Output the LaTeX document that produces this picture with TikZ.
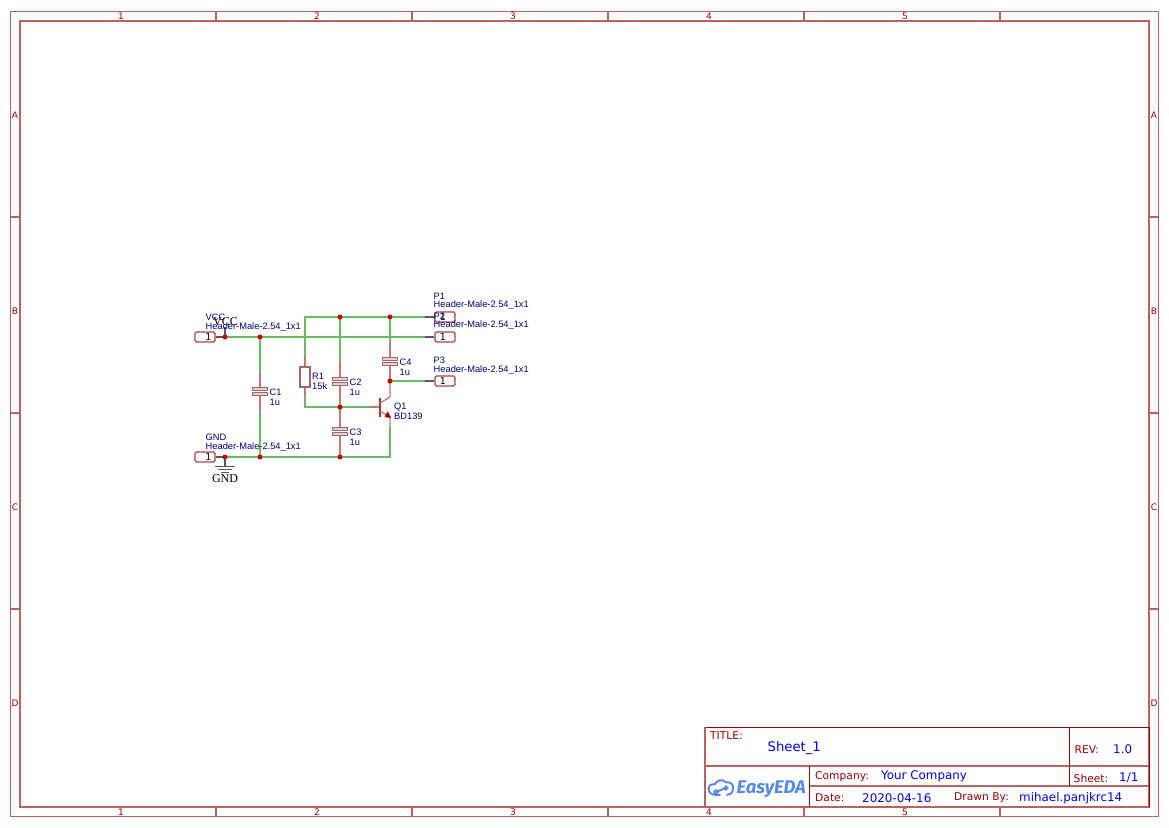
\documentclass[tikz,border=0pt]{standalone}
\usepackage{fontspec}
\setmainfont{DejaVu Sans}
\newfontfamily\annfont{Liberation Sans}
\newfontfamily\serffont{Liberation Serif}
\newfontfamily\logofont{Fira Sans}
\usetikzlibrary{arrows.meta}
\definecolor{frame}{HTML}{990000}
\definecolor{framesoft}{HTML}{B96262}
\definecolor{wirec}{HTML}{68BC68}
\definecolor{leadc}{HTML}{C07878}
\definecolor{annc}{HTML}{000080}
\definecolor{bluec}{HTML}{0000FF}
\definecolor{logoc}{HTML}{5588EE}
\definecolor{junc}{HTML}{CC0000}
\tikzset{
  x=1pt,y=-1pt,
  frameline/.style={draw=framesoft,line width=1.25pt},
  titleline/.style={draw=frame,line width=0.9pt},
  framelabel/.style={text=frame,font=\fontsize{9}{9}\selectfont,inner sep=0pt},
  tlabel/.style={text=frame,font=\fontsize{10.7}{11}\selectfont,inner sep=0pt,anchor=west},
  tvalue/.style={text=bluec,font=\fontsize{11.9}{12}\selectfont,inner sep=0pt,anchor=west},
  wire/.style={draw=wirec,line width=1.2pt},
  lead/.style={draw=leadc,line width=1.3pt},
  pinlead/.style={draw=black!65,line width=1.1pt},
  junction/.style={circle,fill=junc,inner sep=0pt,minimum size=5pt},
  pinbox/.style={draw=frame!75,line width=1.1pt,rounded corners=1.5pt,minimum width=20pt,minimum height=10pt,inner sep=0pt},
  pinnum/.style={inner sep=0pt,font=\fontsize{9.5}{9}\selectfont},
  ann/.style={text=annc,font=\annfont\fontsize{9.3}{9}\selectfont,inner sep=0pt,anchor=west},
  net/.style={text=black,font=\serffont\fontsize{12}{12}\selectfont,inner sep=0pt},
  capplate/.style={draw=leadc!85!black,fill=leadc!35,line width=0.9pt,minimum width=15pt,minimum height=2.6pt,inner sep=0pt},
  resbody/.style={draw=leadc!85!black,line width=1.2pt,minimum width=10pt,minimum height=20pt,inner sep=0pt},
}
\begin{document}
\begin{tikzpicture}
\useasboundingbox (0,0) rectangle (1169,827);
\fill[white] (0,0) rectangle (1169,827);
% frame
\draw[frameline] (10.5,11.5) rectangle (1158.5,816.5);
\draw[frameline] (20,21) rectangle (1149,807);
\foreach \xx in {216,412,608,804,1000}{
  \draw[frameline] (\xx,11.5) -- (\xx,21);
  \draw[frameline] (\xx,807) -- (\xx,816.5);
}
\foreach \yy in {217,413,609}{
  \draw[frameline] (10.5,\yy) -- (20,\yy);
  \draw[frameline] (1149,\yy) -- (1158.5,\yy);
}
\foreach \xx/\tt in {121/1,317/2,513/3,709/4,905/5}{
  \node[framelabel] at (\xx,16) {\tt};
  \node[framelabel] at (\xx,812) {\tt};
}
\foreach \yy/\tt in {115/A,311/B,507/C,703/D}{
  \node[framelabel] at (15,\yy) {\tt};
  \node[framelabel] at (1154,\yy) {\tt};
}
% title block
\draw[titleline] (705,727) -- (1149,727) -- (1149,807);
\draw[frameline] (705,727) -- (705,807);
\draw[frameline] (705,766) -- (1149,766);
\draw[frameline] (809,786) -- (1149,786);
\draw[titleline] (809,766) -- (809,807);
\draw[titleline] (1069.5,727) -- (1069.5,786);
\node[tlabel] at (710,735.5) {TITLE:};
\node[tvalue,font=\fontsize{13.2}{13}\selectfont] at (767.5,748.5) {Sheet\_1};
\node[tlabel] at (1074.5,749.5) {REV:};
\node[tvalue] at (1113,749) {1.0};
\node[tlabel] at (815,776.5) {Company:};
\node[tvalue] at (881,776) {Your Company};
\node[tlabel] at (1073.5,778.5) {Sheet:};
\node[tvalue] at (1119,778) {1/1};
\node[tlabel] at (815,798) {Date:};
\node[tvalue] at (862,798) {2020-04-16};
\node[tlabel] at (954,798) {Drawn By:};
\node[tvalue] at (1019,798) {mihael.panjkrc14};
% logo
\draw[logoc,line width=1.9pt,line cap=round,line join=round]
  (720,795) .. controls (713,796) and (708,793) .. (708.5,788.5)
  .. controls (709,785) and (712,783.5) .. (715,784)
  .. controls (716.5,780) and (723,778.5) .. (726,782.5)
  .. controls (730,781) and (734,785) .. (733,788.5)
  .. controls (733,793) and (730,795) .. (727,795);
\draw[logoc,line width=1.9pt,line cap=round] (716,792) -- (726,788);
\draw[logoc,line width=1.4pt] (716,792) circle (2pt);
\draw[logoc,line width=1.4pt] (726,788) circle (1.8pt);
\node[text=logoc,inner sep=0pt,anchor=west,font=\logofont\bfseries\itshape\fontsize{18.4}{18}\selectfont] at (736.5,789) {EasyEDA};
% pins
\node[pinbox] (pvcc) at (205,337) {};
\node[pinbox] (pgnd) at (205,457) {};
\node[pinbox] (pp1) at (445,317) {};
\node[pinbox] (pp2) at (445,337) {};
\node[pinbox] (pp3) at (445,381) {};
\node[pinnum] (nvcc) at (208.5,337) {1};
\node[pinnum] (ngnd) at (208.5,457) {1};
\node[pinnum] (np1) at (443,317) {1};
\node[pinnum] (np2) at (443,337) {1};
\node[pinnum] (np3) at (443,381) {1};
% coordinates
\coordinate (jvccC) at (225,337);
\coordinate (jc1tC) at (260,337);
\coordinate (jtop1C) at (340,317);
\coordinate (jtop2C) at (390,317);
\coordinate (jbaseC) at (340,407);
\coordinate (jcollC) at (390,381);
\coordinate (jgndC) at (225,457);
\coordinate (jc1bC) at (260,457);
\coordinate (jc3bC) at (340,457);
\coordinate (pp1E) at (425,317);
\coordinate (pp2E) at (425,337);
\coordinate (pp3E) at (425,381);
\coordinate (r1T) at (305,357);
\coordinate (r1B) at (305,397);
\coordinate (r1C) at (305,407);
\coordinate (r1W) at (305,317);
\coordinate (c1T) at (260,372);
\coordinate (c1B) at (260,412);
\coordinate (c2T) at (340,362);
\coordinate (c2B) at (340,402);
\coordinate (c3T) at (340,412);
\coordinate (c3B) at (340,452);
\coordinate (c4T) at (390,342);
\coordinate (c4B) at (390,381);
\coordinate (qB) at (370,407);
\coordinate (qBar) at (380,407);
\coordinate (qC) at (390,397);
\coordinate (qE) at (390,417);
\coordinate (qEe) at (390,427);
\coordinate (qCor) at (390,457);
% wires
\draw[wire] (jvccC) -- (jc1tC) -- (pp2E);
\draw[wire] (jgndC) -- (jc1bC) -- (jc3bC) -- (qCor) -- (qEe);
\draw[wire] (r1T) -- (r1W) -- (jtop1C) -- (jtop2C) -- (pp1E);
\draw[wire] (jtop1C) -- (c2T);
\draw[wire] (jtop2C) -- (c4T);
\draw[wire] (jcollC) -- (pp3E);
\draw[wire] (jc1tC) -- (c1T);
\draw[wire] (c1B) -- (jc1bC);
\draw[wire] (r1B) -- (r1C) -- (jbaseC) -- (qB);
\draw[wire] (c2B) -- (jbaseC) -- (c3T);
\draw[wire] (c3B) -- (jc3bC);
% pin leads
\draw[pinlead] (pvcc) -- (jvccC);
\draw[pinlead] (pgnd) -- (jgndC);
\draw[pinlead] (pp1) -- (pp1E);
\draw[pinlead] (pp2) -- (pp2E);
\draw[pinlead] (pp3) -- (pp3E);
% R1
\node[resbody,fill=white] (r1) at (305,377) {};
\draw[lead] (r1T) -- (r1);
\draw[lead] (r1) -- (r1B);
% capacitors
\foreach \nm/\xx/\yy/\tp/\bt in {c1/260/391.5/c1T/c1B,c2/340/381.5/c2T/c2B,c3/340/431.5/c3T/c3B,c4/390/361.5/c4T/c4B}{
  \draw[lead] (\tp) -- (\xx,\yy);
  \draw[lead] (\xx,\yy) -- (\bt);
  \fill[white] (\xx-8,\yy-1) rectangle (\xx+8,\yy+1);
  \node[capplate] (\nm a) at (\xx,\yy-2.5) {};
  \node[capplate] (\nm b) at (\xx,\yy+2.5) {};
}
% transistor
\draw[lead] (qB) -- (qBar);
\draw[lead,draw=frame!80,line width=1.4pt] (380,398) -- (380,417);
\coordinate (qCi) at (380,403);
\coordinate (qEi) at (380,411);
\draw[lead] (qCi) -- (qC) -- (jcollC);
\draw[lead] (qEi) -- (qE) -- (qEe);
\fill[frame] (391,418) -- (384.5,417) -- (387.8,411.3) -- cycle;
% power symbols
\coordinate (vccT) at (225,327);
\draw[pinlead] (jvccC) -- (vccT);
\coordinate (gT) at (225,466);
\draw[pinlead] (jgndC) -- (gT);
\draw[black!65,line width=1pt] (215,466) -- (235,466);
\draw[black!65,line width=1pt] (218,469) -- (232,469);
\draw[black!65,line width=1pt] (221,472) -- (229,472);
% junctions
\node[junction] (jvcc) at (jvccC) {};
\node[junction] (jc1t) at (jc1tC) {};
\node[junction] (jtop1) at (jtop1C) {};
\node[junction] (jtop2) at (jtop2C) {};
\node[junction] (jbase) at (jbaseC) {};
\node[junction] (jcoll) at (jcollC) {};
\node[junction] (jgnd) at (jgndC) {};
\node[junction] (jc1b) at (jc1bC) {};
\node[junction] (jc3b) at (jc3bC) {};
% net labels
\node[net] (vcctxt) at (225.5,321.5) {VCC};
\node[net] (gndtxt) at (225,479) {GND};
% annotations
\node[ann] at (205.5,317) {VCC};
\node[ann] at (205.5,327) {Header-Male-2.54\_1x1};
\node[ann] at (205.5,437) {GND};
\node[ann] at (205.5,447) {Header-Male-2.54\_1x1};
\node[ann] at (433.5,296) {P1};
\node[ann] at (433.5,305.5) {Header-Male-2.54\_1x1};
\node[ann] at (433.5,316) {P2};
\node[ann] at (433.5,325.5) {Header-Male-2.54\_1x1};
\node[ann] at (433.5,360) {P3};
\node[ann] at (433.5,370.5) {Header-Male-2.54\_1x1};
\node[ann] at (269.5,392) {C1};
\node[ann] at (269.5,402) {1u};
\node[ann] at (312,376.5) {R1};
\node[ann] at (312,386.5) {15k};
\node[ann] at (349.5,382) {C2};
\node[ann] at (349.5,392) {1u};
\node[ann] at (349.5,432) {C3};
\node[ann] at (349.5,442) {1u};
\node[ann] at (399.5,362) {C4};
\node[ann] at (399.5,372) {1u};
\node[ann] at (394,407) {Q1};
\node[ann] at (394,416.5) {BD139};
\end{tikzpicture}
\end{document}
